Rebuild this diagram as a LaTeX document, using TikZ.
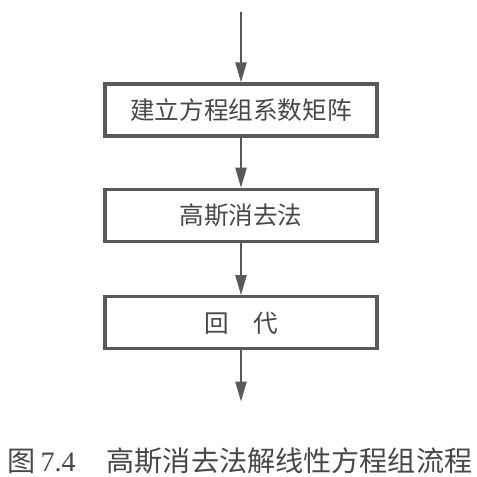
\documentclass[tikz,border=0pt]{standalone}
\usepackage{fontspec}
\setmainfont{Liberation Serif}
\newfontfamily\cjk{Noto Sans CJK SC}
\usetikzlibrary{positioning,arrows.meta}
\definecolor{linegray}{HTML}{595959}
\definecolor{txtgray}{HTML}{474747}

\begin{document}
\begin{tikzpicture}[x=0.025cm,y=-0.025cm,
    stepbox/.style={draw=linegray,line width=2.4pt,minimum width=6.8cm,minimum height=1.3cm,
        text=txtgray,font=\cjk\fontsize{17.5}{20}\selectfont},
    flow/.style={draw=linegray,line width=1.2pt,-{Triangle[length=5mm,width=2.8mm]}},
    caption/.style={text=txtgray,font=\fontsize{20}{24}\selectfont}]
    \useasboundingbox (0,0) rectangle (476,477);

    \node[stepbox] (build) at (241,110) {建立方程组系数矩阵};
    \node[stepbox, below=1.25cm of build] (gauss) {高斯消去法};
    \node[stepbox, below=1.3cm of gauss] (back) {回\hspace{1em}代};
    \coordinate[above=1.75cm of build] (in);
    \coordinate[below=1.275cm of back] (out);

    \draw[flow] (in) -- (build);
    \draw[flow] (build) -- (gauss);
    \draw[flow] (gauss) -- (back);
    \draw[flow] (back) -- (out);

    \node[caption] (cap) at (240,461) {{\cjk 图}\,7.4\hspace{1.1em}{\cjk 高斯消去法解线性方程组流程}};
\end{tikzpicture}
\end{document}
